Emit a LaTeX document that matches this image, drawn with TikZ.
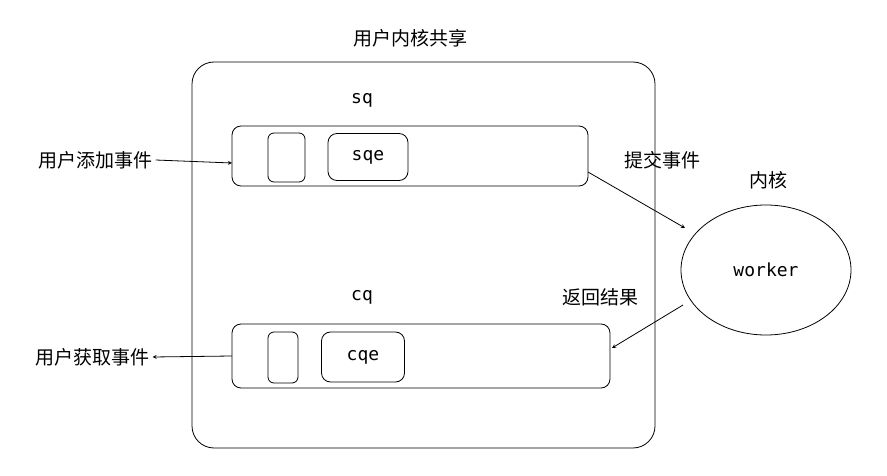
\documentclass[tikz,border=0pt]{standalone}
\usepackage{fontspec}
\setmainfont{Noto Sans CJK SC}
\setmonofont{DejaVu Sans Mono}
\begin{document}
\begin{tikzpicture}[x=1pt,y=-1pt,
  box/.style={draw,thick,rounded corners=9pt},
  cn/.style={font=\fontsize{19}{22}\selectfont},
  mono/.style={font=\fontsize{18}{20}\selectfont\ttfamily},
  arr/.style={thick,->,>=stealth}]
\useasboundingbox (0,0) rectangle (887,476);
\node[cn] (title) at (410,38) {用户内核共享};
\draw[box,rounded corners=22pt] (192,62) rectangle (655,448);
\node[mono] (sq) at (362,100) {sq};
\draw[box] (232,126) rectangle (588,186);
\coordinate (sqL) at (232,163);
\coordinate (sqR) at (588,172);
\draw[box,rounded corners=6pt] (268,133) rectangle (305,182);
\node[box,mono,minimum width=80pt,minimum height=47pt] (sqe) at (368,157) {sqe};
\node[cn] (add) at (95,160) {用户添加事件};
\draw[arr] (add.east) -- (sqL);
\node[cn] (submit) at (662,160) {提交事件};
\node[cn] (kern) at (768,180) {内核};
\draw[thick] (766,270) ellipse (85 and 65);
\node[mono] (worker) at (766,270) {worker};
\coordinate (wTL) at (685,228);
\coordinate (wBL) at (683,305);
\draw[arr] (sqR) -- (wTL);
\node[mono] (cq) at (362,297) {cq};
\draw[box] (232,324) rectangle (610,388);
\coordinate (cqL) at (232,356);
\coordinate (cqR) at (612,348);
\draw[box,rounded corners=6pt] (268,332) rectangle (298,383);
\node[box,mono,minimum width=83pt,minimum height=50pt] (cqe) at (363,357) {cqe};
\node[cn] (ret) at (600,297) {返回结果};
\draw[arr] (wBL) -- (cqR);
\node[cn] (get) at (92,357) {用户获取事件};
\draw[arr] (cqL) -- (get.east);
\end{tikzpicture}
\end{document}
